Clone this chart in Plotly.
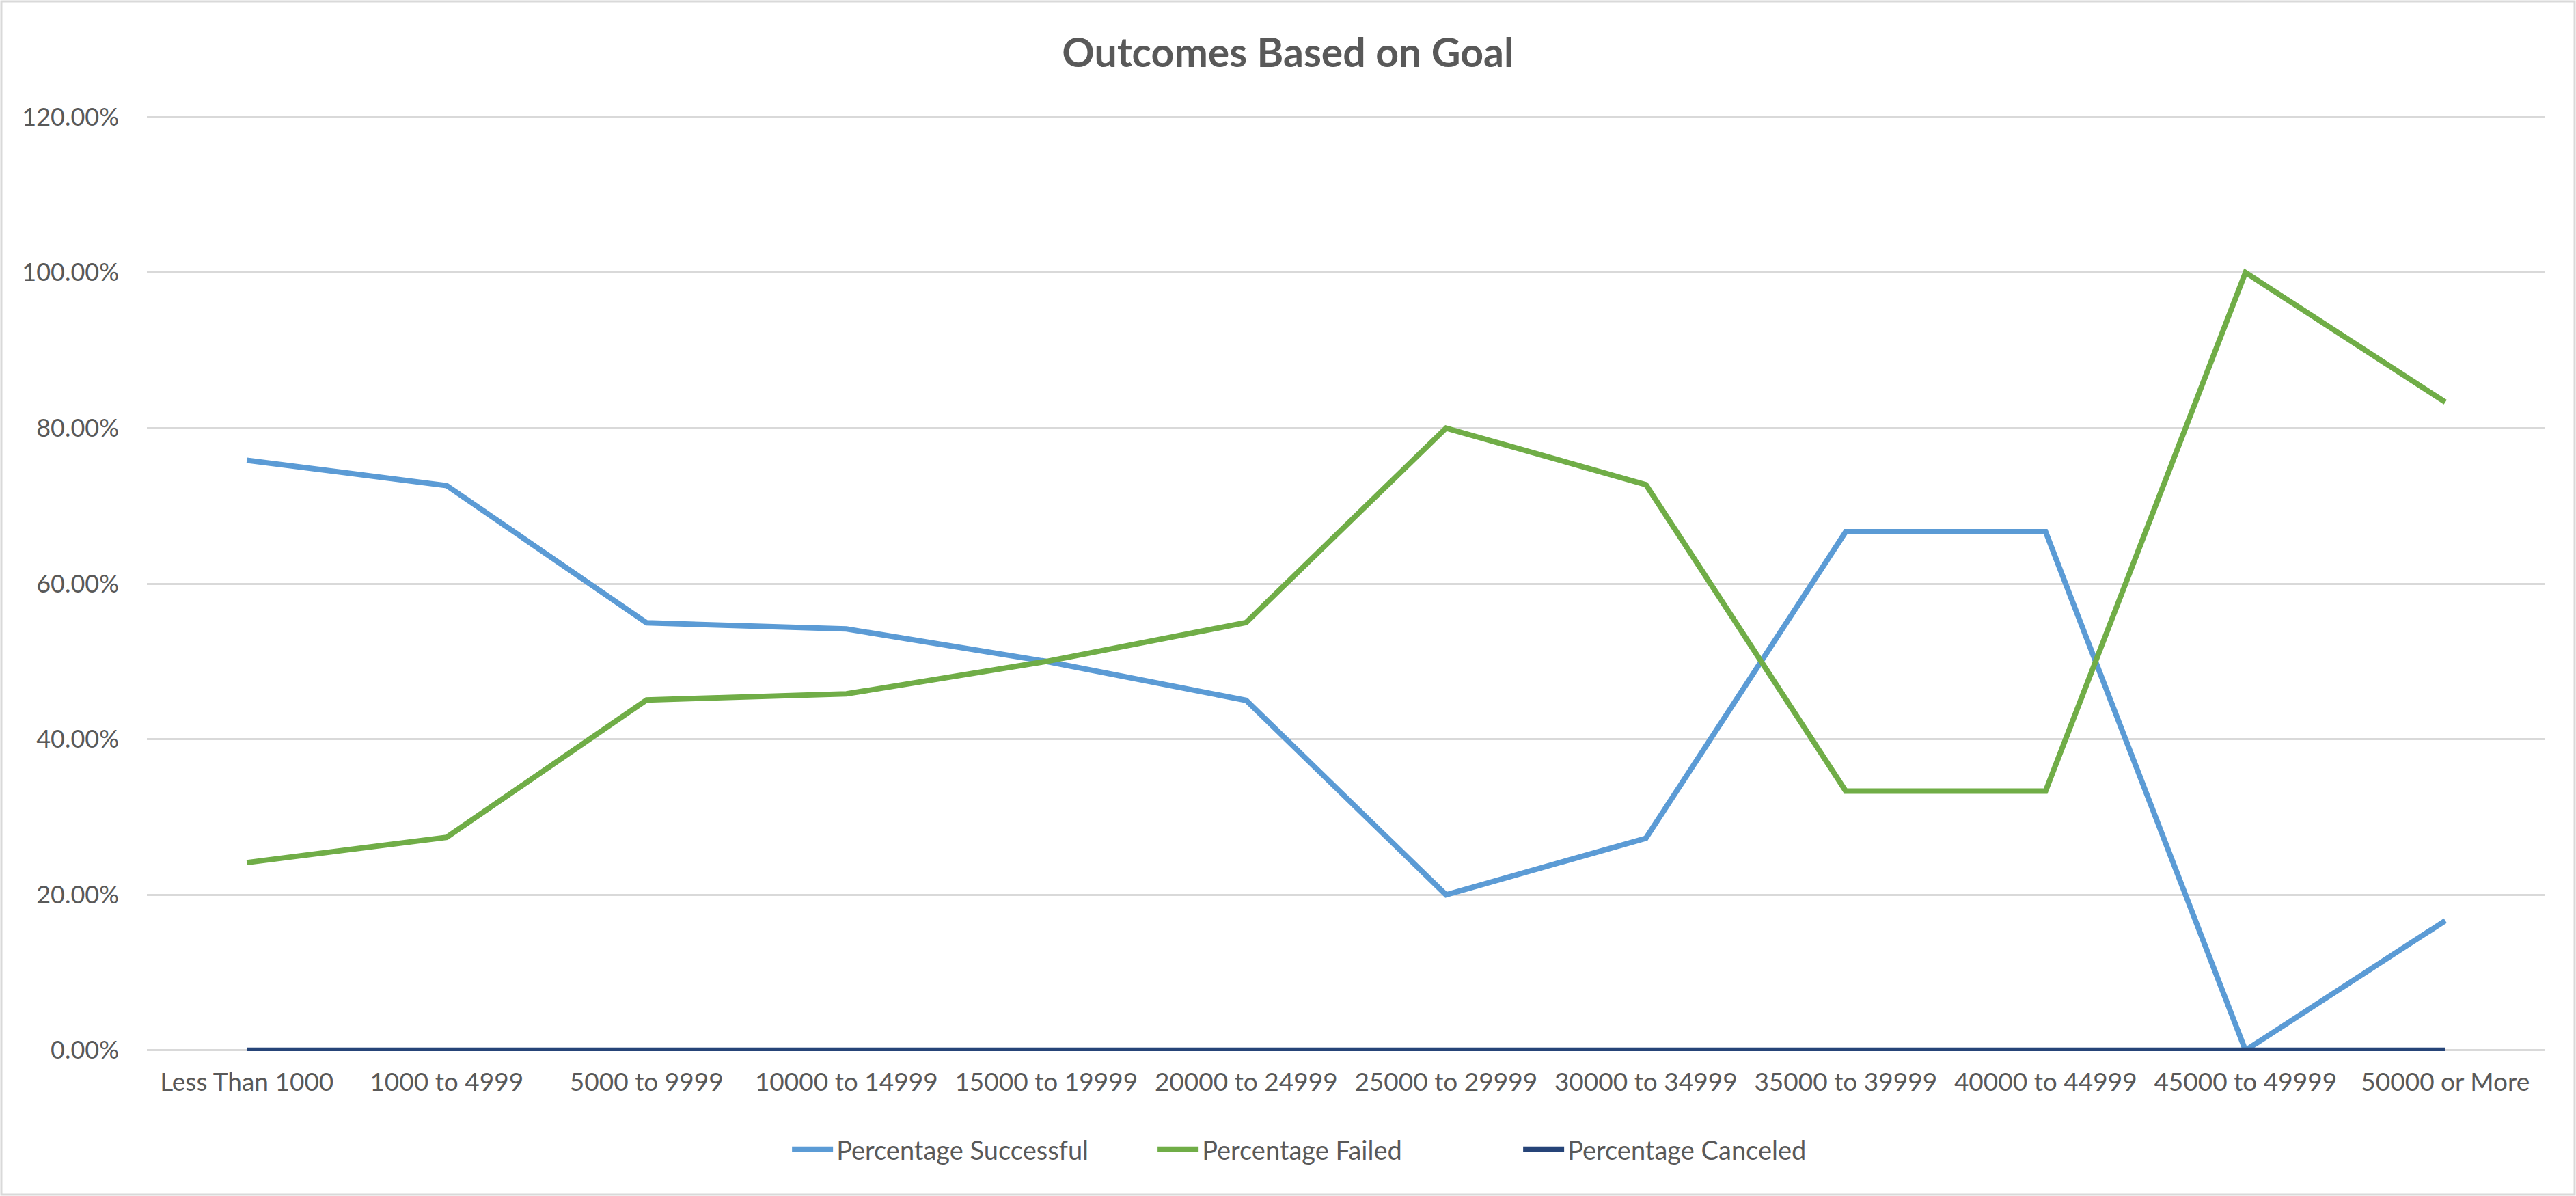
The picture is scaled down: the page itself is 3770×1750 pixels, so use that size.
import plotly.graph_objects as go

goal_ranges = ["Less Than 1000", "1000 to 4999", "5000 to 9999", "10000 to 14999",
               "15000 to 19999", "20000 to 24999", "25000 to 29999", "30000 to 34999",
               "35000 to 39999", "40000 to 44999", "45000 to 49999", "50000 or More"]

pct_successful = [0.7586, 0.7261, 0.5496, 0.5417, 0.50, 0.45,
                  0.20, 0.2727, 0.6667, 0.6667, 0.0, 0.1667]
pct_failed = [0.2414, 0.2739, 0.4504, 0.4583, 0.50, 0.55,
              0.80, 0.7273, 0.3333, 0.3333, 1.0, 0.8333]
pct_canceled = [0.0, 0.0, 0.0, 0.0, 0.0, 0.0,
                0.0, 0.0, 0.0, 0.0, 0.0, 0.0]

series_names = ["Percentage Successful", "Percentage Failed", "Percentage Canceled"]
series_colors = ["#5B9BD5", "#70AD47", "#264478"]

W, H = 3770, 1750
left, right, top, bottom = 215, 45, 170, 212

fig = go.Figure()
for name, vals, col in zip(series_names, [pct_successful, pct_failed, pct_canceled], series_colors):
    fig.add_trace(go.Scatter(x=goal_ranges, y=vals, name=name, mode="lines",
                             line=dict(color=col, width=8)))

text_color = "#595959"

fig.update_layout(
    width=W, height=H,
    margin=dict(l=left, r=right, t=top, b=bottom),
    paper_bgcolor="white", plot_bgcolor="white",
    font=dict(family="Lato", size=37, color=text_color),
    title=dict(text="<b>Outcomes Based on Goal</b>", x=0.5, xref="container",
               xanchor="center", y=1 - 77 / H, yref="container", yanchor="middle",
               font=dict(family="Lato", size=59, color=text_color)),
    legend=dict(orientation="h", x=0.519, xref="container", xanchor="center",
                y=68 / H, yref="container", yanchor="middle",
                font=dict(size=38, color=text_color), itemwidth=60,
                entrywidth=460, tracegroupgap=0),
    showlegend=True,
)

fig.update_xaxes(type="category", range=[-0.5, len(goal_ranges) - 0.5],
                 showgrid=False, showline=False, zeroline=False, ticks="",
                 ticklabelstandoff=20, tickfont=dict(size=37, color=text_color))
fig.update_yaxes(range=[-0.001, 1.201], dtick=0.2, tickformat=".2%",
                 showgrid=True, gridcolor="#D9D9D9", gridwidth=2.5,
                 zeroline=False, showline=False, ticks="",
                 ticklabelstandoff=40, tickfont=dict(size=36, color=text_color))

# outer chart border
pw, ph = W - left - right, H - top - bottom
fig.add_shape(type="rect", xref="paper", yref="paper",
              x0=(-left + 2) / pw, x1=(W - left - 2) / pw,
              y0=-(bottom - 2) / ph, y1=1 + (top - 2) / ph,
              line=dict(color="#D9D9D9", width=3), fillcolor="rgba(0,0,0,0)",
              layer="below")

fig.write_html("out.html", config={"displayModeBar": False},
               post_script="document.body.style.margin='0';")
